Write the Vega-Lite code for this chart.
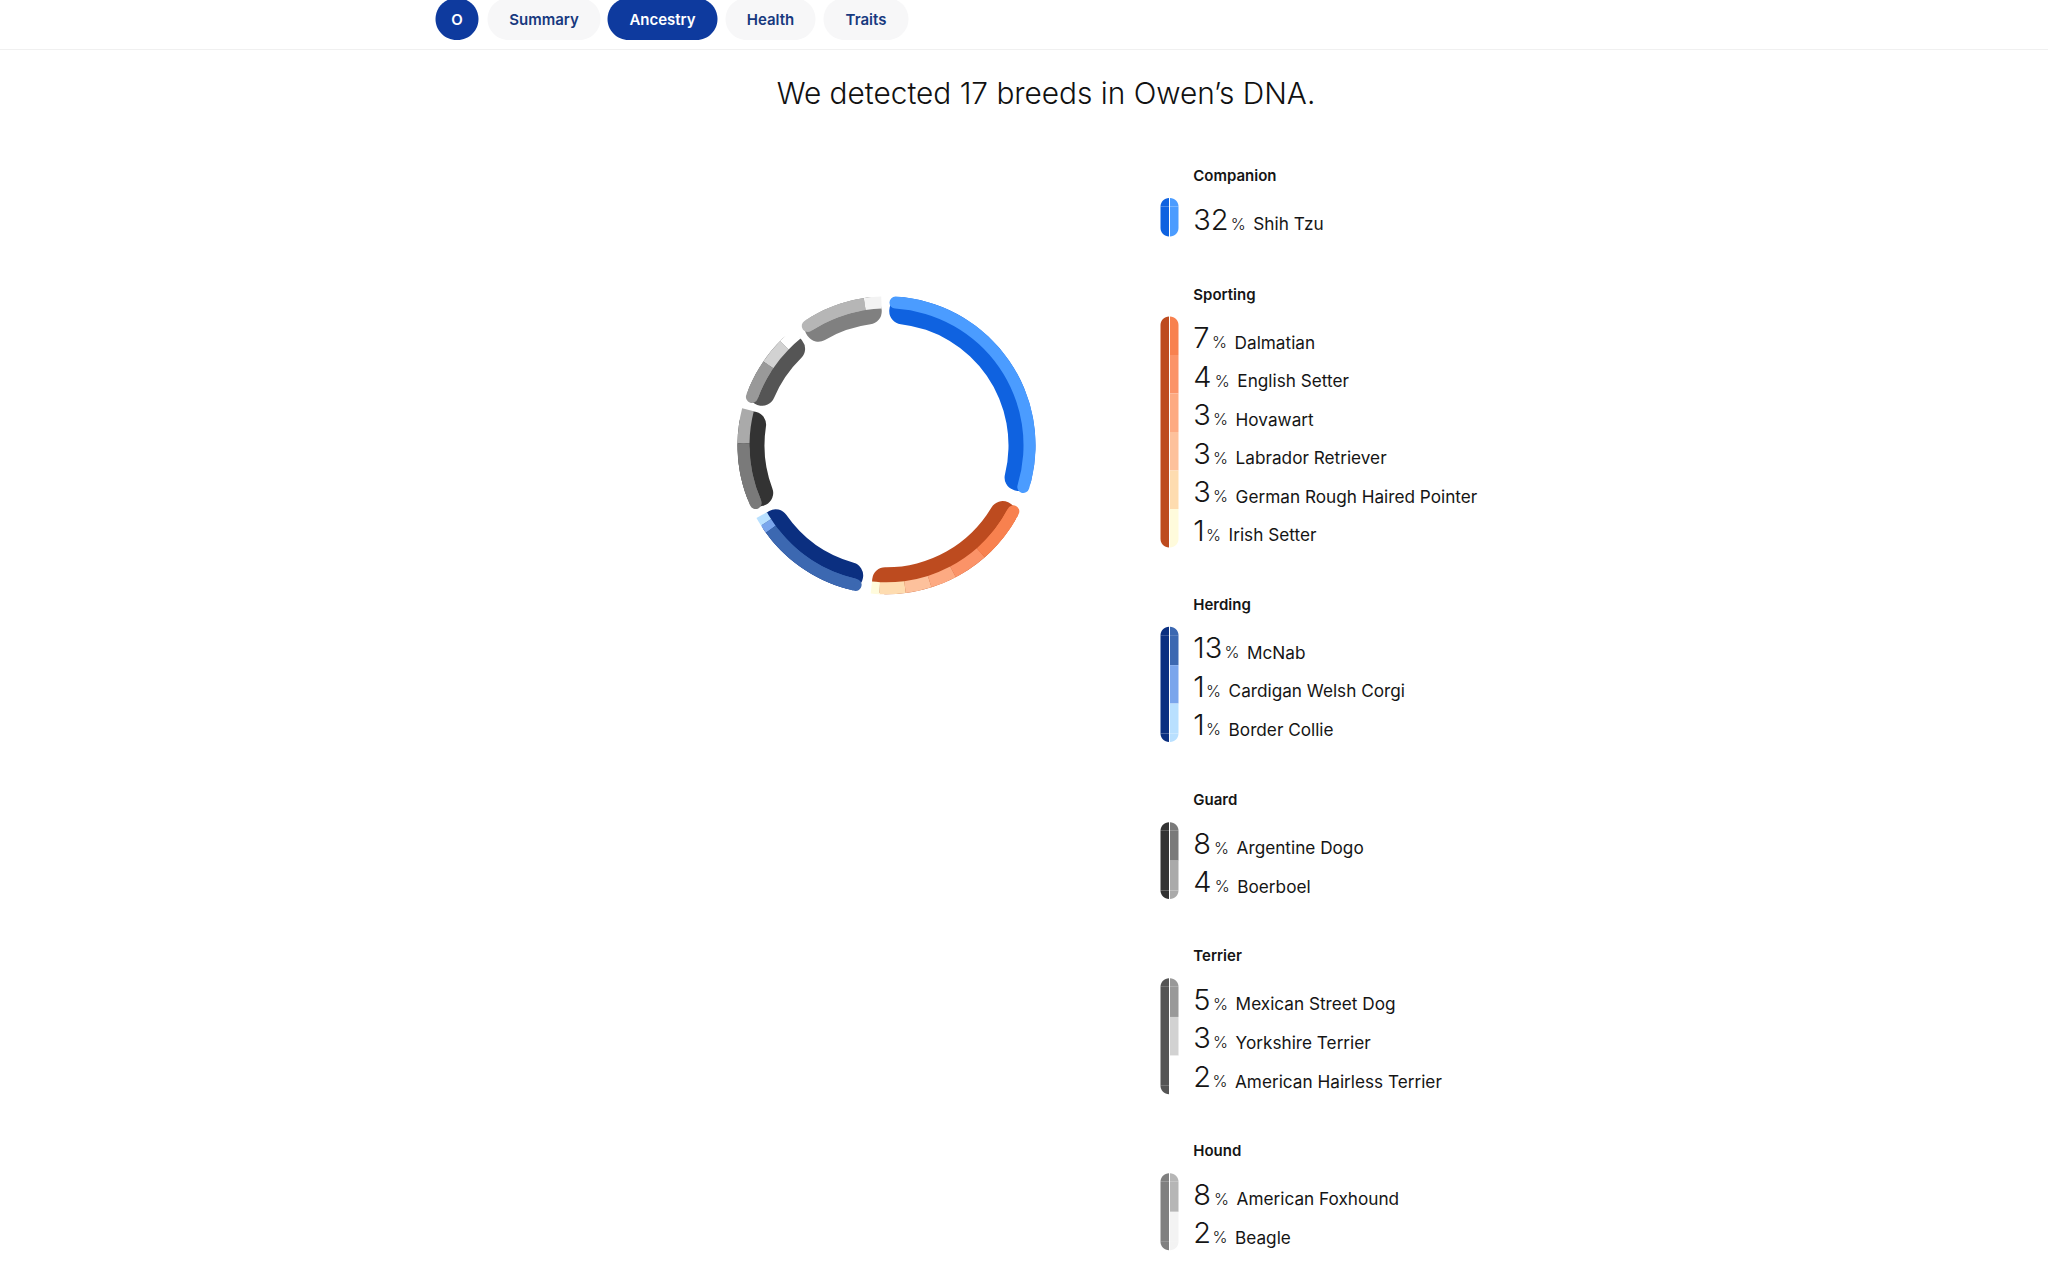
{
  "$schema": "https://vega.github.io/schema/vega-lite/v6.json",
  "width": 2048,
  "height": 1265,
  "autosize": "none",
  "padding": 0,
  "background": "#ffffff",
  "config": {
    "view": {"stroke": null},
    "text": {"font": "Inter", "color": "#151515"}
  },
  "datasets": {
    "breeds": [
      {"group": "gap", "breed": "gap", "pct": 0.35, "row": -1, "rowEnd": -1},
      {"group": "Companion", "breed": "Shih Tzu", "pct": 32, "row": 0, "rowEnd": 1},
      {"group": "gap", "breed": "gap", "pct": 1.7, "row": 1, "rowEnd": 1},
      {"group": "Sporting", "breed": "Dalmatian", "pct": 7, "row": 2, "rowEnd": 3},
      {"group": "Sporting", "breed": "English Setter", "pct": 4, "row": 3, "rowEnd": 4},
      {"group": "Sporting", "breed": "Hovawart", "pct": 3, "row": 4, "rowEnd": 5},
      {"group": "Sporting", "breed": "Labrador Retriever", "pct": 3, "row": 5, "rowEnd": 6},
      {"group": "Sporting", "breed": "German Rough Haired Pointer", "pct": 3, "row": 6, "rowEnd": 7},
      {"group": "Sporting", "breed": "Irish Setter", "pct": 1, "row": 7, "rowEnd": 8},
      {"group": "gap", "breed": "gap", "pct": 1.18, "row": 8, "rowEnd": 8},
      {"group": "Herding", "breed": "McNab", "pct": 13, "row": 9, "rowEnd": 10},
      {"group": "Herding", "breed": "Cardigan Welsh Corgi", "pct": 1, "row": 10, "rowEnd": 11},
      {"group": "Herding", "breed": "Border Collie", "pct": 1, "row": 11, "rowEnd": 12},
      {"group": "gap", "breed": "gap", "pct": 0.89, "row": 12, "rowEnd": 12},
      {"group": "Guard", "breed": "Argentine Dogo", "pct": 8, "row": 13, "rowEnd": 14},
      {"group": "Guard", "breed": "Boerboel", "pct": 4, "row": 14, "rowEnd": 15},
      {"group": "gap", "breed": "gap", "pct": 0.89, "row": 15, "rowEnd": 15},
      {"group": "Terrier", "breed": "Mexican Street Dog", "pct": 5, "row": 16, "rowEnd": 17},
      {"group": "Terrier", "breed": "Yorkshire Terrier", "pct": 3, "row": 17, "rowEnd": 18},
      {"group": "Terrier", "breed": "American Hairless Terrier", "pct": 2, "row": 18, "rowEnd": 19},
      {"group": "gap", "breed": "gap", "pct": 0.89, "row": 19, "rowEnd": 19},
      {"group": "Hound", "breed": "American Foxhound", "pct": 8, "row": 20, "rowEnd": 21},
      {"group": "Hound", "breed": "Beagle", "pct": 2, "row": 21, "rowEnd": 22},
      {"group": "gap", "breed": "gap", "pct": 0.6, "row": 22, "rowEnd": 22}
    ],
    "tabs": [
      {"tab": "O", "start": 0, "end": 1},
      {"tab": "Summary", "start": 2, "end": 3},
      {"tab": "Ancestry", "start": 4, "end": 5},
      {"tab": "Health", "start": 6, "end": 7},
      {"tab": "Traits", "start": 8, "end": 9}
    ]
  },
  "layer": [
    {
      "data": {"values": [{"line": "header"}]},
      "mark": {"type": "rule", "color": "#f0f0f0", "strokeWidth": 1},
      "encoding": {
        "y": {"datum": 0, "type": "quantitative", "axis": null, "scale": {"domain": [0, 1], "range": [49.5, 50.5]}}
      }
    },
    {
      "data": {"name": "tabs"},
      "mark": {"type": "rect", "cornerRadius": 21},
      "encoding": {
        "x": {"field": "start", "type": "quantitative", "axis": null, "scale": {"domain": [0, 1, 2, 3, 4, 5, 6, 7, 8, 9], "range": [435.5, 478.5, 487.5, 600.5, 607.5, 717.5, 725.5, 815.5, 823.5, 908.5], "zero": false, "nice": false}},
        "x2": {"field": "end"},
        "y": {"datum": 0, "type": "quantitative", "axis": null, "scale": {"domain": [0, 1], "range": [-2, 40]}},
        "y2": {"datum": 1},
        "color": {
          "field": "tab",
          "type": "nominal",
          "legend": null,
          "scale": {"domain": ["O", "Summary", "Ancestry", "Health", "Traits"], "range": ["#0e3a9e", "#f7f7f8", "#0e3a9e", "#f7f7f8", "#f7f7f8"]}
        }
      }
    },
    {
      "data": {"name": "tabs"},
      "mark": {"type": "text", "fontSize": 15, "fontWeight": 600, "baseline": "middle", "align": "center"},
      "encoding": {
        "x": {"field": "start", "type": "quantitative", "axis": null, "scale": {"domain": [0, 2, 4, 6, 8], "range": [457, 544, 662.5, 770.5, 866], "zero": false, "nice": false}},
        "y": {"datum": 0, "type": "quantitative", "axis": null, "scale": {"domain": [0, 1], "range": [19.5, 20.5]}},
        "text": {"field": "tab"},
        "color": {
          "field": "tab",
          "type": "nominal",
          "legend": null,
          "scale": {"domain": ["O", "Summary", "Ancestry", "Health", "Traits"], "range": ["#ffffff", "#17397f", "#ffffff", "#17397f", "#17397f"]}
        }
      }
    },
    {
      "data": {"values": [{"headline": "We detected 17 breeds in Owen’s DNA."}]},
      "mark": {"type": "text", "fontSize": 29.8, "fontWeight": 300, "align": "center", "baseline": "alphabetic", "color": "#111111"},
      "encoding": {
        "x": {"datum": 0, "type": "quantitative", "axis": null, "scale": {"domain": [0, 1], "range": [1046, 1047]}},
        "y": {"datum": 0, "type": "quantitative", "axis": null, "scale": {"domain": [0, 1], "range": [104, 105]}},
        "text": {"field": "headline"}
      }
    },
    {
      "data": {"name": "breeds"},
      "transform": [
        {"stack": "pct", "groupby": [], "sort": [{"field": "row", "order": "ascending"}], "as": ["a0", "a1"]},
        {"joinaggregate": [{"op": "min", "field": "a0", "as": "gStart"}, {"op": "max", "field": "a1", "as": "gEnd"}], "groupby": ["group"]},
        {"filter": "datum.group !== 'gap'"}
      ],
      "encoding": {
        "x": {"datum": 0, "type": "quantitative", "axis": null, "scale": {"domain": [0, 1], "range": [886.5, 887.5]}},
        "y": {"datum": 0, "type": "quantitative", "axis": null, "scale": {"domain": [0, 1], "range": [445.3, 446.3]}}
      },
      "layer": [
        {
          "transform": [{"filter": "datum.a0 === datum.gStart"}],
          "mark": {"type": "arc", "radius": 149, "radius2": 122, "cornerRadius": 13},
          "encoding": {
            "theta": {"field": "gStart", "type": "quantitative", "stack": null, "scale": {"domain": [0, 106.5]}},
            "theta2": {"field": "gEnd"},
            "color": {
              "field": "group",
              "type": "nominal",
              "legend": null,
              "scale": {"domain": ["Companion", "Sporting", "Herding", "Guard", "Terrier", "Hound"], "range": ["#0f62e0", "#bd4b1f", "#0b2f80", "#333333", "#555555", "#808080"]}
            }
          }
        },
        {
          "encoding": {
            "theta": {"field": "a0", "type": "quantitative", "stack": null, "scale": {"domain": [0, 106.5]}},
            "theta2": {"field": "a1"},
            "color": {
              "field": "breed",
              "type": "nominal",
              "legend": null,
              "scale": {
                "domain": ["Shih Tzu", "Dalmatian", "English Setter", "Hovawart", "Labrador Retriever", "German Rough Haired Pointer", "Irish Setter", "McNab", "Cardigan Welsh Corgi", "Border Collie", "Argentine Dogo", "Boerboel", "Mexican Street Dog", "Yorkshire Terrier", "American Hairless Terrier", "American Foxhound", "Beagle"],
                "range": ["#4b9cff", "#f8814f", "#fb9368", "#fdaa82", "#fdc19c", "#fedcb0", "#fffbdc", "#3c68b1", "#7aa5ec", "#b9e0ff", "#7a7a7a", "#aaaaaa", "#999999", "#d2d2d2", "#ffffff", "#b6b6b6", "#f3f3f3"]
              }
            }
          },
          "layer": [
            {
              "transform": [{"filter": "datum.a0 === datum.gStart"}],
              "mark": {"type": "arc", "radius": 149, "radius2": 137, "cornerRadius": 6}
            },
            {
              "transform": [{"filter": "datum.a0 > datum.gStart"}],
              "mark": {"type": "arc", "radius": 149, "radius2": 137}
            },
            {
              "transform": [{"filter": "datum.a0 === datum.gStart && datum.a1 < datum.gEnd"}],
              "mark": {"type": "arc", "radius": 149, "radius2": 137, "thetaOffset": 0.05}
            }
          ]
        }
      ],
      "resolve": {"scale": {"color": "independent"}}
    },
    {
      "data": {"name": "breeds"},
      "transform": [
        {"filter": "datum.group !== 'gap'"},
        {"joinaggregate": [{"op": "min", "field": "row", "as": "first"}, {"op": "max", "field": "rowEnd", "as": "last"}], "groupby": ["group"]}
      ],
      "encoding": {
        "y": {
          "field": "row",
          "type": "quantitative",
          "axis": null,
          "scale": {"domain": [0, 1, 2, 8, 9, 12, 13, 15, 16, 19, 20, 22], "range": [198, 236.5, 316.5, 547.5, 626.7, 742, 822.3, 899, 978.3, 1094.3, 1173.3, 1250.3], "zero": false, "nice": false}
        }
      },
      "layer": [
        {
          "encoding": {
            "x": {"datum": 0, "type": "quantitative", "axis": null, "scale": {"domain": [0, 1], "range": [1160.5, 1169]}},
            "color": {
              "field": "group",
              "type": "nominal",
              "legend": null,
              "scale": {"domain": ["Companion", "Sporting", "Herding", "Guard", "Terrier", "Hound"], "range": ["#0f62e0", "#bd4b1f", "#0b2f80", "#333333", "#555555", "#808080"]}
            }
          },
          "transform": [{"filter": "datum.row === datum.first"}],
          "layer": [
            {
              "mark": {"type": "rect", "yOffset": 8.5, "y2Offset": -8.5},
              "encoding": {"x2": {"datum": 1}, "y2": {"field": "last"}}
            },
            {
              "mark": {"type": "point", "filled": true, "opacity": 1, "size": 289, "shape": "M0,0 L-1,0 A1,1 0 0 1 0,-1 Z", "yOffset": 8.5},
              "encoding": {"x": {"datum": 1, "type": "quantitative", "axis": null, "scale": {"domain": [0, 1], "range": [1160.5, 1169]}}}
            },
            {
              "mark": {"type": "point", "filled": true, "opacity": 1, "size": 289, "shape": "M0,0 L-1,0 A1,1 0 0 0 0,1 Z", "yOffset": -8.5},
              "encoding": {
                "x": {"datum": 1, "type": "quantitative", "axis": null, "scale": {"domain": [0, 1], "range": [1160.5, 1169]}},
                "y": {"field": "last", "type": "quantitative", "axis": null, "scale": {"domain": [0, 1, 2, 8, 9, 12, 13, 15, 16, 19, 20, 22], "range": [198, 236.5, 316.5, 547.5, 626.7, 742, 822.3, 899, 978.3, 1094.3, 1173.3, 1250.3], "zero": false, "nice": false}}
              }
            }
          ]
        },
        {
          "encoding": {
            "x": {"datum": 0, "type": "quantitative", "axis": null, "scale": {"domain": [0, 1], "range": [1170, 1178.5]}},
            "color": {
              "field": "breed",
              "type": "nominal",
              "legend": null,
              "scale": {
                "domain": ["Shih Tzu", "Dalmatian", "English Setter", "Hovawart", "Labrador Retriever", "German Rough Haired Pointer", "Irish Setter", "McNab", "Cardigan Welsh Corgi", "Border Collie", "Argentine Dogo", "Boerboel", "Mexican Street Dog", "Yorkshire Terrier", "American Hairless Terrier", "American Foxhound", "Beagle"],
                "range": ["#4b9cff", "#f8814f", "#fb9368", "#fdaa82", "#fdc19c", "#fedcb0", "#fffbdc", "#3c68b1", "#7aa5ec", "#b9e0ff", "#7a7a7a", "#aaaaaa", "#999999", "#d2d2d2", "#ffffff", "#b6b6b6", "#f3f3f3"]
              }
            }
          },
          "layer": [
            {
              "transform": [{"filter": "datum.row === datum.first && datum.rowEnd === datum.last"}],
              "mark": {"type": "rect", "yOffset": 8.5, "y2Offset": -8.5},
              "encoding": {"x2": {"datum": 1}, "y2": {"field": "rowEnd"}}
            },
            {
              "transform": [{"filter": "datum.row === datum.first && datum.rowEnd < datum.last"}],
              "mark": {"type": "rect", "yOffset": 8.5},
              "encoding": {"x2": {"datum": 1}, "y2": {"field": "rowEnd"}}
            },
            {
              "transform": [{"filter": "datum.row > datum.first && datum.rowEnd < datum.last"}],
              "mark": {"type": "rect"},
              "encoding": {"x2": {"datum": 1}, "y2": {"field": "rowEnd"}}
            },
            {
              "transform": [{"filter": "datum.row > datum.first && datum.rowEnd === datum.last"}],
              "mark": {"type": "rect", "y2Offset": -8.5},
              "encoding": {"x2": {"datum": 1}, "y2": {"field": "rowEnd"}}
            },
            {
              "transform": [{"filter": "datum.row === datum.first"}],
              "mark": {"type": "point", "filled": true, "opacity": 1, "size": 289, "shape": "M0,0 L1,0 A1,1 0 0 0 0,-1 Z", "yOffset": 8.5}
            },
            {
              "transform": [{"filter": "datum.rowEnd === datum.last"}],
              "mark": {"type": "point", "filled": true, "opacity": 1, "size": 289, "shape": "M0,0 L1,0 A1,1 0 0 1 0,1 Z", "yOffset": -8.5},
              "encoding": {
                "y": {"field": "last", "type": "quantitative", "axis": null, "scale": {"domain": [0, 1, 2, 8, 9, 12, 13, 15, 16, 19, 20, 22], "range": [198, 236.5, 316.5, 547.5, 626.7, 742, 822.3, 899, 978.3, 1094.3, 1173.3, 1250.3], "zero": false, "nice": false}}
              }
            }
          ]
        },
        {
          "transform": [{"filter": "datum.row === datum.first"}],
          "mark": {"type": "text", "fontSize": 15, "fontWeight": 600, "align": "left", "baseline": "alphabetic", "dy": -17},
          "encoding": {
            "x": {"datum": 0, "type": "quantitative", "axis": null, "scale": {"domain": [0, 1], "range": [1193.3, 1194.3]}},
            "text": {"field": "group"}
          }
        },
        {
          "mark": {"type": "text", "fontSize": 29, "fontWeight": 300, "align": "left", "baseline": "alphabetic", "dy": 31.5},
          "encoding": {
            "x": {"datum": 0, "type": "quantitative", "axis": null, "scale": {"domain": [0, 1], "range": [1193.3, 1194.3]}},
            "text": {"field": "pct", "type": "quantitative"}
          }
        },
        {
          "mark": {"type": "text", "fontSize": 16, "fontWeight": 300, "align": "left", "baseline": "alphabetic", "dy": 31.5, "text": "%"},
          "encoding": {
            "x": {"field": "pct", "type": "quantitative", "axis": null, "scale": {"domain": [1, 2, 3, 4, 5, 7, 8, 13, 32], "range": [1206, 1212.4, 1213, 1214.7, 1213, 1212, 1214, 1224.4, 1230.7], "zero": false, "nice": false}}
          }
        },
        {
          "mark": {"type": "text", "fontSize": 17.2, "fontWeight": 400, "align": "left", "baseline": "alphabetic", "dy": 32},
          "encoding": {
            "x": {"field": "pct", "type": "quantitative", "axis": null, "scale": {"domain": [1, 2, 3, 4, 5, 7, 8, 13, 32], "range": [1228.6, 1235, 1235.6, 1237.3, 1235.6, 1234.6, 1236.6, 1247, 1253.3], "zero": false, "nice": false}},
            "text": {"field": "breed"}
          }
        }
      ],
      "resolve": {"scale": {"x": "independent", "color": "independent"}}
    }
  ],
  "resolve": {"scale": {"x": "independent", "y": "independent", "color": "independent"}}
}
